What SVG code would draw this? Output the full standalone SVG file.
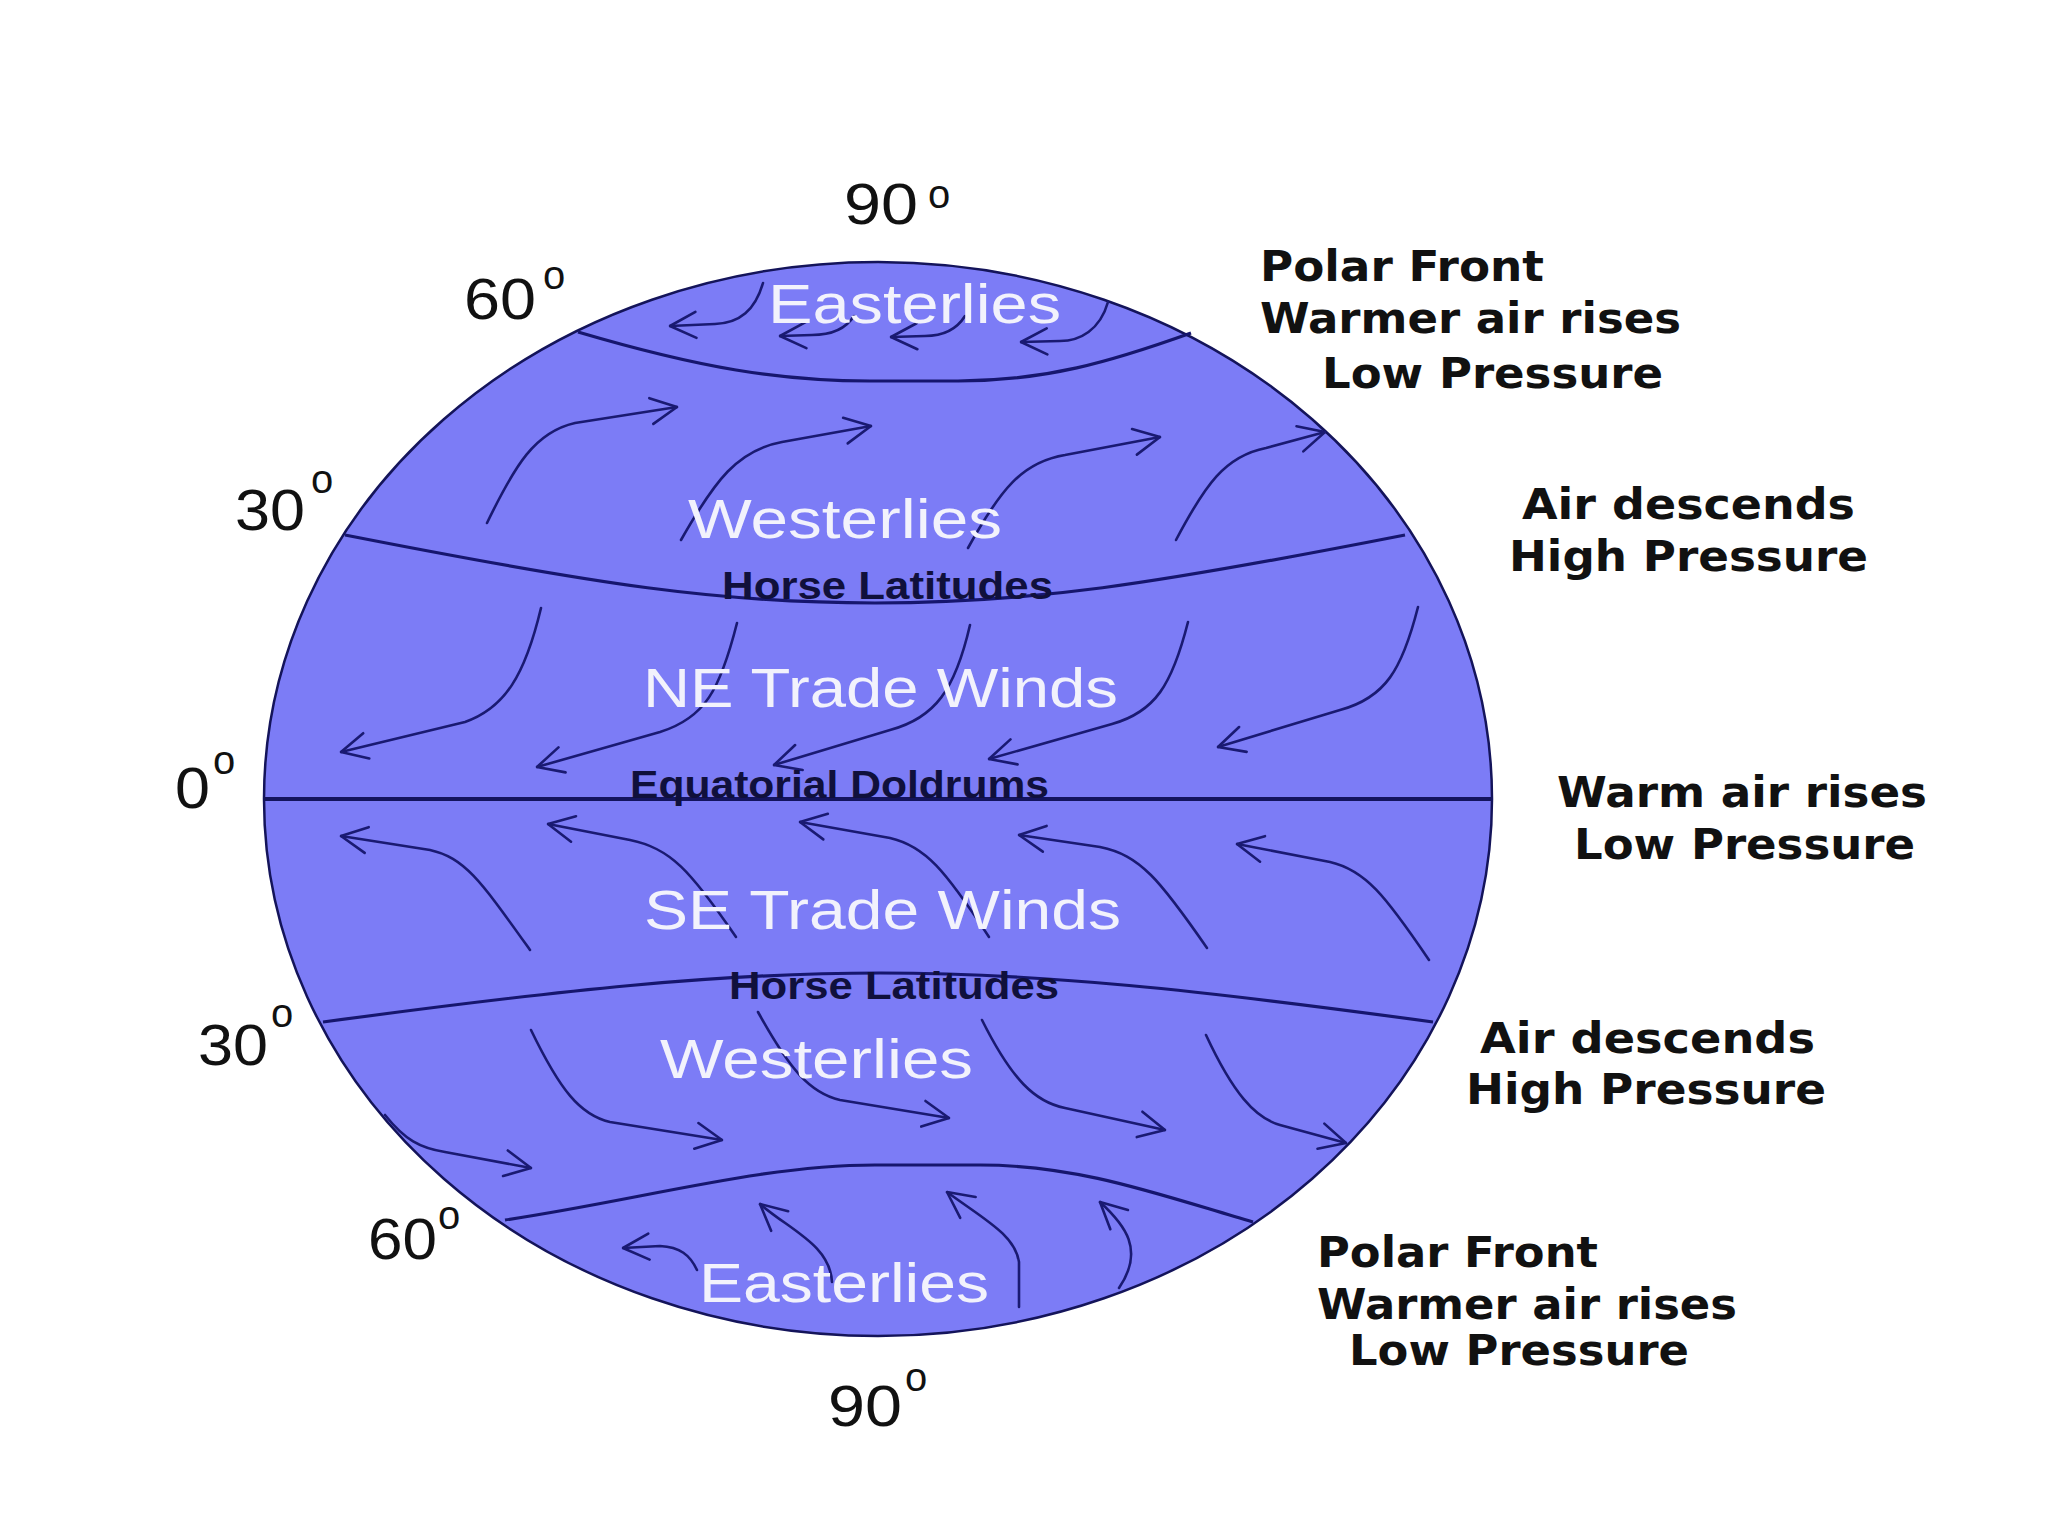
<svg xmlns="http://www.w3.org/2000/svg" width="2048" height="1536" viewBox="0 0 2048 1536">
<style>
.bg{fill:#ffffff}
.globe{fill:#7c7cf6;stroke:#14145a;stroke-width:2.5}
.zone{fill:none;stroke:#16166e;stroke-width:3.2}
.eq{fill:none;stroke:#14145e;stroke-width:3.8}
.arr{fill:none;stroke:#1a1a72;stroke-width:2.6;stroke-linecap:round;stroke-linejoin:round;marker-end:url(#head)}
.deg{font-family:"Liberation Sans",Arial,sans-serif;font-size:57px;fill:#111111}
.sup{font-family:"Liberation Sans",Arial,sans-serif;font-size:40px;fill:#111111}
.side{font-family:"DejaVu Sans","Liberation Sans",sans-serif;font-weight:bold;font-size:42px;fill:#111111}
.wind{font-family:"Liberation Sans",Arial,sans-serif;font-size:56px;fill:#f2f2fc}
.belt{font-family:"Liberation Sans",Arial,sans-serif;font-weight:bold;font-size:38px;fill:#10103c}
</style>
<defs>
<marker id="head" markerUnits="userSpaceOnUse" viewBox="0 0 32 32" markerWidth="32" markerHeight="32" refX="31" refY="16" orient="auto">
<path d="M5,3 L31,16 L5,29" fill="none" stroke="#1a1a72" stroke-width="2.6" stroke-linecap="round" stroke-linejoin="round"/>
</marker>
</defs>
<rect class="bg" x="0" y="0" width="2048" height="1536"/>

<g id="globe">
<ellipse class="globe" cx="878" cy="799" rx="614" ry="537"/>
</g>

<g id="zone-lines">
<path class="zone" d="M578,332 C700,368 780,381 870,381 L958,381 C1045,381 1110,362 1191,333"/>
<path class="zone" d="M345,535 C600,585 720,603 875,603 C1030,603 1150,585 1405,535"/>
<path class="eq" d="M264,799 L1493,799"/>
<path class="zone" d="M323,1022 C560,990 720,973 880,973 C1040,973 1200,990 1433,1022"/>
<path class="zone" d="M505,1220 C640,1200 760,1165 875,1165 L980,1165 C1080,1165 1160,1195 1253,1222"/>
</g>

<g id="connectors">
<!-- north polar easterlies -->
<path class="arr" d="M763,283 C755,310 740,323 715,324 L670,326"/>
<path class="arr" d="M854,316 C845,330 830,335 812,335 L780,336"/>
<path class="arr" d="M965,316 C955,332 940,336 925,336 L891,337"/>
<path class="arr" d="M1108,302 C1100,330 1080,341 1060,341 L1021,342"/>
<!-- northern westerlies -->
<path class="arr" d="M487,523 C515,465 535,432 575,423 L677,407"/>
<path class="arr" d="M681,540 C715,480 738,450 782,442 L871,426"/>
<path class="arr" d="M968,548 C1000,490 1022,462 1065,455 L1160,437"/>
<path class="arr" d="M1176,540 C1205,485 1225,456 1266,448 L1325,432"/>
<!-- NE trade winds -->
<path class="arr" d="M541,608 C525,675 505,708 465,722 L341,752"/>
<path class="arr" d="M737,623 C720,690 705,718 660,732 L537,767"/>
<path class="arr" d="M970,625 C955,690 935,718 890,730 L774,765"/>
<path class="arr" d="M1188,622 C1172,685 1155,712 1112,724 L989,759"/>
<path class="arr" d="M1418,607 C1402,670 1385,698 1340,710 L1218,747"/>
<!-- SE trade winds -->
<path class="arr" d="M530,950 C480,880 465,858 430,850 L341,836"/>
<path class="arr" d="M736,937 C690,870 670,848 630,840 L548,824"/>
<path class="arr" d="M989,937 C945,870 925,846 890,838 L800,822"/>
<path class="arr" d="M1207,948 C1160,880 1140,855 1100,847 L1019,835"/>
<path class="arr" d="M1429,960 C1385,895 1365,870 1330,862 L1237,844"/>
<!-- southern westerlies -->
<path class="arr" d="M385,1115 C405,1140 420,1148 445,1152 L531,1168"/>
<path class="arr" d="M531,1030 C560,1090 580,1115 610,1122 L722,1140"/>
<path class="arr" d="M758,1012 C790,1070 810,1093 840,1100 L949,1118"/>
<path class="arr" d="M982,1020 C1012,1080 1035,1102 1065,1108 L1165,1130"/>
<path class="arr" d="M1206,1035 C1233,1093 1255,1118 1280,1125 L1346,1143"/>
<!-- south polar easterlies -->
<path class="arr" d="M697,1270 C690,1255 680,1247 660,1246 L623,1248"/>
<path class="arr" d="M832,1282 C830,1245 790,1230 760,1204"/>
<path class="arr" d="M1019,1307 L1019,1262 C1015,1235 985,1220 947,1192"/>
<path class="arr" d="M1119,1288 C1145,1250 1125,1225 1100,1202"/>
</g>

<g id="degree-labels">
<text class="deg" x="844" y="224" textLength="74" lengthAdjust="spacingAndGlyphs">90</text><text class="sup" x="928" y="208">o</text>
<text class="deg" x="464" y="319" textLength="72" lengthAdjust="spacingAndGlyphs">60</text><text class="sup" x="543" y="289">o</text>
<text class="deg" x="235" y="530" textLength="70" lengthAdjust="spacingAndGlyphs">30</text><text class="sup" x="311" y="493">o</text>
<text class="deg" x="175" y="808" textLength="35" lengthAdjust="spacingAndGlyphs">0</text><text class="sup" x="213" y="774">o</text>
<text class="deg" x="198" y="1065" textLength="70" lengthAdjust="spacingAndGlyphs">30</text><text class="sup" x="271" y="1027">o</text>
<text class="deg" x="368" y="1259" textLength="69" lengthAdjust="spacingAndGlyphs">60</text><text class="sup" x="438" y="1229">o</text>
<text class="deg" x="828" y="1426" textLength="74" lengthAdjust="spacingAndGlyphs">90</text><text class="sup" x="905" y="1391">o</text>
</g>

<g id="wind-labels">
<text class="wind" x="768" y="323" textLength="293" lengthAdjust="spacingAndGlyphs">Easterlies</text>
<text class="wind" x="688" y="538" textLength="314" lengthAdjust="spacingAndGlyphs">Westerlies</text>
<text class="belt" x="722" y="599" textLength="331" lengthAdjust="spacingAndGlyphs">Horse Latitudes</text>
<text class="wind" x="643" y="707" textLength="475" lengthAdjust="spacingAndGlyphs">NE Trade Winds</text>
<text class="belt" x="630" y="798" textLength="419" lengthAdjust="spacingAndGlyphs">Equatorial Doldrums</text>
<text class="wind" x="644" y="929" textLength="477" lengthAdjust="spacingAndGlyphs">SE Trade Winds</text>
<text class="belt" x="729" y="999" textLength="330" lengthAdjust="spacingAndGlyphs">Horse Latitudes</text>
<text class="wind" x="660" y="1078" textLength="313" lengthAdjust="spacingAndGlyphs">Westerlies</text>
<text class="wind" x="699" y="1302" textLength="290" lengthAdjust="spacingAndGlyphs">Easterlies</text>
</g>

<g id="pressure-labels">
<text class="side" x="1260" y="281" textLength="284" lengthAdjust="spacingAndGlyphs">Polar Front</text>
<text class="side" x="1260" y="333" textLength="421" lengthAdjust="spacingAndGlyphs">Warmer air rises</text>
<text class="side" x="1322" y="388" textLength="341" lengthAdjust="spacingAndGlyphs">Low Pressure</text>
<text class="side" x="1522" y="519" textLength="333" lengthAdjust="spacingAndGlyphs">Air descends</text>
<text class="side" x="1509" y="571" textLength="359" lengthAdjust="spacingAndGlyphs">High Pressure</text>
<text class="side" x="1557" y="807" textLength="370" lengthAdjust="spacingAndGlyphs">Warm air rises</text>
<text class="side" x="1574" y="859" textLength="341" lengthAdjust="spacingAndGlyphs">Low Pressure</text>
<text class="side" x="1480" y="1053" textLength="335" lengthAdjust="spacingAndGlyphs">Air descends</text>
<text class="side" x="1466" y="1104" textLength="360" lengthAdjust="spacingAndGlyphs">High Pressure</text>
<text class="side" x="1317" y="1267" textLength="281" lengthAdjust="spacingAndGlyphs">Polar Front</text>
<text class="side" x="1317" y="1319" textLength="420" lengthAdjust="spacingAndGlyphs">Warmer air rises</text>
<text class="side" x="1349" y="1365" textLength="340" lengthAdjust="spacingAndGlyphs">Low Pressure</text>
</g>
</svg>
